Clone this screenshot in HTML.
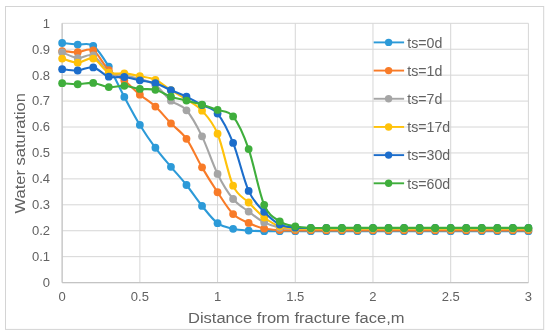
<!DOCTYPE html>
<html><head><meta charset="utf-8"><title>Water saturation vs distance from fracture face</title>
<style>html,body{margin:0;padding:0;background:#fff}svg{display:block}text{font-family:"Liberation Sans",sans-serif;fill:#626262}</style></head><body>
<svg width="550" height="336" viewBox="0 0 550 336">
<rect x="0" y="0" width="550" height="336" fill="#fff"/>
<rect x="5.5" y="6.5" width="538.2" height="322.9" fill="#fff" stroke="#D4D4D4" stroke-width="1"/>
<g stroke="#D6D6D6" stroke-width="1" fill="none"><line x1="62.15" y1="282.60" x2="528.40" y2="282.60"/><line x1="62.15" y1="256.67" x2="528.40" y2="256.67"/><line x1="62.15" y1="230.74" x2="528.40" y2="230.74"/><line x1="62.15" y1="204.81" x2="528.40" y2="204.81"/><line x1="62.15" y1="178.88" x2="528.40" y2="178.88"/><line x1="62.15" y1="152.95" x2="528.40" y2="152.95"/><line x1="62.15" y1="127.02" x2="528.40" y2="127.02"/><line x1="62.15" y1="101.09" x2="528.40" y2="101.09"/><line x1="62.15" y1="75.16" x2="528.40" y2="75.16"/><line x1="62.15" y1="49.23" x2="528.40" y2="49.23"/><line x1="62.15" y1="23.30" x2="528.40" y2="23.30"/><line x1="62.15" y1="23.30" x2="62.15" y2="282.60"/><line x1="139.86" y1="23.30" x2="139.86" y2="282.60"/><line x1="217.57" y1="23.30" x2="217.57" y2="282.60"/><line x1="295.27" y1="23.30" x2="295.27" y2="282.60"/><line x1="372.98" y1="23.30" x2="372.98" y2="282.60"/><line x1="450.69" y1="23.30" x2="450.69" y2="282.60"/><line x1="528.40" y1="23.30" x2="528.40" y2="282.60"/></g>
<g stroke="#C4C4C4" stroke-width="1.1" fill="none"><line x1="62.15" y1="23.30" x2="62.15" y2="282.60"/><line x1="62.15" y1="282.60" x2="528.40" y2="282.60"/></g>
<text x="50" y="287.00" font-size="12.0" text-anchor="end" transform="translate(50 0) scale(1.085 1) translate(-50 0)">0</text>
<text x="50" y="261.07" font-size="12.0" text-anchor="end" transform="translate(50 0) scale(1.085 1) translate(-50 0)">0.1</text>
<text x="50" y="235.14" font-size="12.0" text-anchor="end" transform="translate(50 0) scale(1.085 1) translate(-50 0)">0.2</text>
<text x="50" y="209.21" font-size="12.0" text-anchor="end" transform="translate(50 0) scale(1.085 1) translate(-50 0)">0.3</text>
<text x="50" y="183.28" font-size="12.0" text-anchor="end" transform="translate(50 0) scale(1.085 1) translate(-50 0)">0.4</text>
<text x="50" y="157.35" font-size="12.0" text-anchor="end" transform="translate(50 0) scale(1.085 1) translate(-50 0)">0.5</text>
<text x="50" y="131.42" font-size="12.0" text-anchor="end" transform="translate(50 0) scale(1.085 1) translate(-50 0)">0.6</text>
<text x="50" y="105.49" font-size="12.0" text-anchor="end" transform="translate(50 0) scale(1.085 1) translate(-50 0)">0.7</text>
<text x="50" y="79.56" font-size="12.0" text-anchor="end" transform="translate(50 0) scale(1.085 1) translate(-50 0)">0.8</text>
<text x="50" y="53.63" font-size="12.0" text-anchor="end" transform="translate(50 0) scale(1.085 1) translate(-50 0)">0.9</text>
<text x="50" y="27.70" font-size="12.0" text-anchor="end" transform="translate(50 0) scale(1.085 1) translate(-50 0)">1</text>
<text x="62.15" y="301.2" font-size="12.0" text-anchor="middle" transform="translate(62.15 0) scale(1.085 1) translate(-62.15 0)">0</text>
<text x="139.86" y="301.2" font-size="12.0" text-anchor="middle" transform="translate(139.86 0) scale(1.085 1) translate(-139.86 0)">0.5</text>
<text x="217.57" y="301.2" font-size="12.0" text-anchor="middle" transform="translate(217.57 0) scale(1.085 1) translate(-217.57 0)">1</text>
<text x="295.27" y="301.2" font-size="12.0" text-anchor="middle" transform="translate(295.27 0) scale(1.085 1) translate(-295.27 0)">1.5</text>
<text x="372.98" y="301.2" font-size="12.0" text-anchor="middle" transform="translate(372.98 0) scale(1.085 1) translate(-372.98 0)">2</text>
<text x="450.69" y="301.2" font-size="12.0" text-anchor="middle" transform="translate(450.69 0) scale(1.085 1) translate(-450.69 0)">2.5</text>
<text x="528.40" y="301.2" font-size="12.0" text-anchor="middle" transform="translate(528.40 0) scale(1.085 1) translate(-528.40 0)">3</text>
<text x="188.0" y="322.6" font-size="15.2" textLength="216.5" lengthAdjust="spacingAndGlyphs">Distance from fracture face,m</text>
<text x="-60.2" y="0" font-size="14.8" textLength="120.4" lengthAdjust="spacingAndGlyphs" transform="translate(24.6 153.3) rotate(-90)">Water saturation</text>
<g><path d="M62.15 43.01C64.74 43.27 72.51 44.09 77.69 44.56C82.87 45.04 88.05 42.19 93.23 45.86C98.41 49.53 103.59 58.09 108.78 66.60C113.96 75.12 119.14 87.22 124.32 96.94C129.50 106.66 134.68 116.48 139.86 124.95C145.04 133.42 150.22 140.79 155.40 147.76C160.58 154.74 165.76 160.59 170.94 166.80C176.12 173.00 181.30 178.48 186.48 185.00C191.66 191.52 196.84 199.53 202.03 205.90C207.21 212.27 212.39 219.40 217.57 223.22C222.75 227.04 227.93 227.56 233.11 228.80C238.29 230.03 243.47 230.22 248.65 230.61C253.83 231.00 259.01 231.04 264.19 231.13C269.37 231.22 274.55 231.13 279.73 231.13C284.91 231.13 290.09 231.13 295.27 231.13C300.46 231.13 305.64 231.13 310.82 231.13C316.00 231.13 321.18 231.13 326.36 231.13C331.54 231.13 336.72 231.13 341.90 231.13C347.08 231.13 352.26 231.13 357.44 231.13C362.62 231.13 367.80 231.13 372.98 231.13C378.16 231.13 383.34 231.13 388.52 231.13C393.71 231.13 398.89 231.13 404.07 231.13C409.25 231.13 414.43 231.13 419.61 231.13C424.79 231.13 429.97 231.13 435.15 231.13C440.33 231.13 445.51 231.13 450.69 231.13C455.87 231.13 461.05 231.13 466.23 231.13C471.41 231.13 476.59 231.13 481.77 231.13C486.96 231.13 492.14 231.13 497.32 231.13C502.50 231.13 507.68 231.13 512.86 231.13C518.04 231.13 525.81 231.13 528.40 231.13" fill="none" stroke="#2C9AD8" stroke-width="2.1" stroke-linecap="round" stroke-linejoin="round"/>
<g fill="#2C9AD8"><circle cx="62.15" cy="43.01" r="3.9"/><circle cx="77.69" cy="44.56" r="3.9"/><circle cx="93.23" cy="45.86" r="3.9"/><circle cx="108.78" cy="66.60" r="3.9"/><circle cx="124.32" cy="96.94" r="3.9"/><circle cx="139.86" cy="124.95" r="3.9"/><circle cx="155.40" cy="147.76" r="3.9"/><circle cx="170.94" cy="166.80" r="3.9"/><circle cx="186.48" cy="185.00" r="3.9"/><circle cx="202.03" cy="205.90" r="3.9"/><circle cx="217.57" cy="223.22" r="3.9"/><circle cx="233.11" cy="228.80" r="3.9"/><circle cx="248.65" cy="230.61" r="3.9"/><circle cx="264.19" cy="231.13" r="3.9"/><circle cx="279.73" cy="231.13" r="3.9"/><circle cx="295.27" cy="231.13" r="3.9"/><circle cx="310.82" cy="231.13" r="3.9"/><circle cx="326.36" cy="231.13" r="3.9"/><circle cx="341.90" cy="231.13" r="3.9"/><circle cx="357.44" cy="231.13" r="3.9"/><circle cx="372.98" cy="231.13" r="3.9"/><circle cx="388.52" cy="231.13" r="3.9"/><circle cx="404.07" cy="231.13" r="3.9"/><circle cx="419.61" cy="231.13" r="3.9"/><circle cx="435.15" cy="231.13" r="3.9"/><circle cx="450.69" cy="231.13" r="3.9"/><circle cx="466.23" cy="231.13" r="3.9"/><circle cx="481.77" cy="231.13" r="3.9"/><circle cx="497.32" cy="231.13" r="3.9"/><circle cx="512.86" cy="231.13" r="3.9"/><circle cx="528.40" cy="231.13" r="3.9"/></g></g>
<g><path d="M62.15 51.05C64.74 51.24 72.51 52.29 77.69 52.19C82.87 52.08 88.05 47.39 93.23 50.40C98.41 53.40 103.59 65.20 108.78 70.23C113.96 75.27 119.14 76.53 124.32 80.61C129.50 84.68 134.68 90.36 139.86 94.69C145.04 99.01 150.22 101.75 155.40 106.54C160.58 111.32 165.76 118.01 170.94 123.39C176.12 128.77 181.30 131.49 186.48 138.82C191.66 146.15 196.84 158.46 202.03 167.37C207.21 176.27 212.39 184.45 217.57 192.23C222.75 200.02 227.93 208.97 233.11 214.09C238.29 219.21 243.47 220.55 248.65 222.96C253.83 225.37 259.01 227.35 264.19 228.54C269.37 229.72 274.55 229.79 279.73 230.09C284.91 230.39 290.09 230.31 295.27 230.35C300.46 230.39 305.64 230.35 310.82 230.35C316.00 230.35 321.18 230.35 326.36 230.35C331.54 230.35 336.72 230.35 341.90 230.35C347.08 230.35 352.26 230.35 357.44 230.35C362.62 230.35 367.80 230.35 372.98 230.35C378.16 230.35 383.34 230.35 388.52 230.35C393.71 230.35 398.89 230.35 404.07 230.35C409.25 230.35 414.43 230.35 419.61 230.35C424.79 230.35 429.97 230.35 435.15 230.35C440.33 230.35 445.51 230.35 450.69 230.35C455.87 230.35 461.05 230.35 466.23 230.35C471.41 230.35 476.59 230.35 481.77 230.35C486.96 230.35 492.14 230.35 497.32 230.35C502.50 230.35 507.68 230.35 512.86 230.35C518.04 230.35 525.81 230.35 528.40 230.35" fill="none" stroke="#F87B28" stroke-width="2.1" stroke-linecap="round" stroke-linejoin="round"/>
<g fill="#F87B28"><circle cx="62.15" cy="51.05" r="3.9"/><circle cx="77.69" cy="52.19" r="3.9"/><circle cx="93.23" cy="50.40" r="3.9"/><circle cx="108.78" cy="70.23" r="3.9"/><circle cx="124.32" cy="80.61" r="3.9"/><circle cx="139.86" cy="94.69" r="3.9"/><circle cx="155.40" cy="106.54" r="3.9"/><circle cx="170.94" cy="123.39" r="3.9"/><circle cx="186.48" cy="138.82" r="3.9"/><circle cx="202.03" cy="167.37" r="3.9"/><circle cx="217.57" cy="192.23" r="3.9"/><circle cx="233.11" cy="214.09" r="3.9"/><circle cx="248.65" cy="222.96" r="3.9"/><circle cx="264.19" cy="228.54" r="3.9"/><circle cx="279.73" cy="230.09" r="3.9"/><circle cx="295.27" cy="230.35" r="3.9"/><circle cx="310.82" cy="230.35" r="3.9"/><circle cx="326.36" cy="230.35" r="3.9"/><circle cx="341.90" cy="230.35" r="3.9"/><circle cx="357.44" cy="230.35" r="3.9"/><circle cx="372.98" cy="230.35" r="3.9"/><circle cx="388.52" cy="230.35" r="3.9"/><circle cx="404.07" cy="230.35" r="3.9"/><circle cx="419.61" cy="230.35" r="3.9"/><circle cx="435.15" cy="230.35" r="3.9"/><circle cx="450.69" cy="230.35" r="3.9"/><circle cx="466.23" cy="230.35" r="3.9"/><circle cx="481.77" cy="230.35" r="3.9"/><circle cx="497.32" cy="230.35" r="3.9"/><circle cx="512.86" cy="230.35" r="3.9"/><circle cx="528.40" cy="230.35" r="3.9"/></g></g>
<g><path d="M62.15 52.34C64.74 53.29 72.51 57.53 77.69 58.05C82.87 58.56 88.05 53.03 93.23 55.45C98.41 57.87 103.59 69.28 108.78 72.57C113.96 75.85 119.14 74.08 124.32 75.16C129.50 76.24 134.68 77.41 139.86 79.05C145.04 80.69 150.22 81.40 155.40 85.01C160.58 88.62 165.76 96.49 170.94 100.70C176.12 104.91 181.30 104.35 186.48 110.30C191.66 116.24 196.84 125.75 202.03 136.35C207.21 146.96 212.39 163.51 217.57 173.95C222.75 184.39 227.93 192.74 233.11 199.00C238.29 205.27 243.47 207.65 248.65 211.55C253.83 215.46 259.01 219.76 264.19 222.44C269.37 225.12 274.55 226.59 279.73 227.63C284.91 228.67 290.09 228.47 295.27 228.67C300.46 228.86 305.64 228.77 310.82 228.80C316.00 228.82 321.18 228.80 326.36 228.80C331.54 228.80 336.72 228.80 341.90 228.80C347.08 228.80 352.26 228.80 357.44 228.80C362.62 228.80 367.80 228.80 372.98 228.80C378.16 228.80 383.34 228.80 388.52 228.80C393.71 228.80 398.89 228.80 404.07 228.80C409.25 228.80 414.43 228.80 419.61 228.80C424.79 228.80 429.97 228.80 435.15 228.80C440.33 228.80 445.51 228.80 450.69 228.80C455.87 228.80 461.05 228.80 466.23 228.80C471.41 228.80 476.59 228.80 481.77 228.80C486.96 228.80 492.14 228.80 497.32 228.80C502.50 228.80 507.68 228.80 512.86 228.80C518.04 228.80 525.81 228.80 528.40 228.80" fill="none" stroke="#A5A5A5" stroke-width="2.1" stroke-linecap="round" stroke-linejoin="round"/>
<g fill="#A5A5A5"><circle cx="62.15" cy="52.34" r="3.9"/><circle cx="77.69" cy="58.05" r="3.9"/><circle cx="93.23" cy="55.45" r="3.9"/><circle cx="108.78" cy="72.57" r="3.9"/><circle cx="124.32" cy="75.16" r="3.9"/><circle cx="139.86" cy="79.05" r="3.9"/><circle cx="155.40" cy="85.01" r="3.9"/><circle cx="170.94" cy="100.70" r="3.9"/><circle cx="186.48" cy="110.30" r="3.9"/><circle cx="202.03" cy="136.35" r="3.9"/><circle cx="217.57" cy="173.95" r="3.9"/><circle cx="233.11" cy="199.00" r="3.9"/><circle cx="248.65" cy="211.55" r="3.9"/><circle cx="264.19" cy="222.44" r="3.9"/><circle cx="279.73" cy="227.63" r="3.9"/><circle cx="295.27" cy="228.67" r="3.9"/><circle cx="310.82" cy="228.80" r="3.9"/><circle cx="326.36" cy="228.80" r="3.9"/><circle cx="341.90" cy="228.80" r="3.9"/><circle cx="357.44" cy="228.80" r="3.9"/><circle cx="372.98" cy="228.80" r="3.9"/><circle cx="388.52" cy="228.80" r="3.9"/><circle cx="404.07" cy="228.80" r="3.9"/><circle cx="419.61" cy="228.80" r="3.9"/><circle cx="435.15" cy="228.80" r="3.9"/><circle cx="450.69" cy="228.80" r="3.9"/><circle cx="466.23" cy="228.80" r="3.9"/><circle cx="481.77" cy="228.80" r="3.9"/><circle cx="497.32" cy="228.80" r="3.9"/><circle cx="512.86" cy="228.80" r="3.9"/><circle cx="528.40" cy="228.80" r="3.9"/></g></g>
<g><path d="M62.15 58.56C64.74 59.26 72.51 62.71 77.69 62.71C82.87 62.71 88.05 56.92 93.23 58.56C98.41 60.21 103.59 70.10 108.78 72.57C113.96 75.03 119.14 72.74 124.32 73.34C129.50 73.95 134.68 75.12 139.86 76.20C145.04 77.28 150.22 77.49 155.40 79.83C160.58 82.16 165.76 86.91 170.94 90.20C176.12 93.48 181.30 96.12 186.48 99.53C191.66 102.95 196.84 104.98 202.03 110.68C207.21 116.39 212.39 121.26 217.57 133.76C222.75 146.26 227.93 174.22 233.11 185.67C238.29 197.13 243.47 197.17 248.65 202.48C253.83 207.78 259.01 213.54 264.19 217.52C269.37 221.49 274.55 224.52 279.73 226.33C284.91 228.15 290.09 228.02 295.27 228.41C300.46 228.80 305.64 228.62 310.82 228.67C316.00 228.71 321.18 228.67 326.36 228.67C331.54 228.67 336.72 228.67 341.90 228.67C347.08 228.67 352.26 228.67 357.44 228.67C362.62 228.67 367.80 228.67 372.98 228.67C378.16 228.67 383.34 228.67 388.52 228.67C393.71 228.67 398.89 228.67 404.07 228.67C409.25 228.67 414.43 228.67 419.61 228.67C424.79 228.67 429.97 228.67 435.15 228.67C440.33 228.67 445.51 228.67 450.69 228.67C455.87 228.67 461.05 228.67 466.23 228.67C471.41 228.67 476.59 228.67 481.77 228.67C486.96 228.67 492.14 228.67 497.32 228.67C502.50 228.67 507.68 228.67 512.86 228.67C518.04 228.67 525.81 228.67 528.40 228.67" fill="none" stroke="#FFC20A" stroke-width="2.1" stroke-linecap="round" stroke-linejoin="round"/>
<g fill="#FFC20A"><circle cx="62.15" cy="58.56" r="3.9"/><circle cx="77.69" cy="62.71" r="3.9"/><circle cx="93.23" cy="58.56" r="3.9"/><circle cx="108.78" cy="72.57" r="3.9"/><circle cx="124.32" cy="73.34" r="3.9"/><circle cx="139.86" cy="76.20" r="3.9"/><circle cx="155.40" cy="79.83" r="3.9"/><circle cx="170.94" cy="90.20" r="3.9"/><circle cx="186.48" cy="99.53" r="3.9"/><circle cx="202.03" cy="110.68" r="3.9"/><circle cx="217.57" cy="133.76" r="3.9"/><circle cx="233.11" cy="185.67" r="3.9"/><circle cx="248.65" cy="202.48" r="3.9"/><circle cx="264.19" cy="217.52" r="3.9"/><circle cx="279.73" cy="226.33" r="3.9"/><circle cx="295.27" cy="228.41" r="3.9"/><circle cx="310.82" cy="228.67" r="3.9"/><circle cx="326.36" cy="228.67" r="3.9"/><circle cx="341.90" cy="228.67" r="3.9"/><circle cx="357.44" cy="228.67" r="3.9"/><circle cx="372.98" cy="228.67" r="3.9"/><circle cx="388.52" cy="228.67" r="3.9"/><circle cx="404.07" cy="228.67" r="3.9"/><circle cx="419.61" cy="228.67" r="3.9"/><circle cx="435.15" cy="228.67" r="3.9"/><circle cx="450.69" cy="228.67" r="3.9"/><circle cx="466.23" cy="228.67" r="3.9"/><circle cx="481.77" cy="228.67" r="3.9"/><circle cx="497.32" cy="228.67" r="3.9"/><circle cx="512.86" cy="228.67" r="3.9"/><circle cx="528.40" cy="228.67" r="3.9"/></g></g>
<g><path d="M62.15 69.20C64.74 69.41 72.51 70.80 77.69 70.49C82.87 70.19 88.05 66.34 93.23 67.38C98.41 68.42 103.59 75.12 108.78 76.72C113.96 78.31 119.14 76.37 124.32 76.98C129.50 77.58 134.68 79.31 139.86 80.35C145.04 81.38 150.22 81.56 155.40 83.20C160.58 84.84 165.76 87.95 170.94 90.20C176.12 92.45 181.30 94.22 186.48 96.68C191.66 99.15 196.84 102.17 202.03 104.98C207.21 107.79 212.39 107.21 217.57 113.54C222.75 119.87 227.93 130.07 233.11 142.97C238.29 155.87 243.47 179.46 248.65 190.94C253.83 202.41 259.01 206.21 264.19 211.81C269.37 217.41 274.55 221.88 279.73 224.52C284.91 227.15 290.09 227.04 295.27 227.63C300.46 228.21 305.64 227.95 310.82 228.02C316.00 228.08 321.18 228.02 326.36 228.02C331.54 228.02 336.72 228.02 341.90 228.02C347.08 228.02 352.26 228.02 357.44 228.02C362.62 228.02 367.80 228.02 372.98 228.02C378.16 228.02 383.34 228.02 388.52 228.02C393.71 228.02 398.89 228.02 404.07 228.02C409.25 228.02 414.43 228.02 419.61 228.02C424.79 228.02 429.97 228.02 435.15 228.02C440.33 228.02 445.51 228.02 450.69 228.02C455.87 228.02 461.05 228.02 466.23 228.02C471.41 228.02 476.59 228.02 481.77 228.02C486.96 228.02 492.14 228.02 497.32 228.02C502.50 228.02 507.68 228.02 512.86 228.02C518.04 228.02 525.81 228.02 528.40 228.02" fill="none" stroke="#1C6DCB" stroke-width="2.1" stroke-linecap="round" stroke-linejoin="round"/>
<g fill="#1C6DCB"><circle cx="62.15" cy="69.20" r="3.9"/><circle cx="77.69" cy="70.49" r="3.9"/><circle cx="93.23" cy="67.38" r="3.9"/><circle cx="108.78" cy="76.72" r="3.9"/><circle cx="124.32" cy="76.98" r="3.9"/><circle cx="139.86" cy="80.35" r="3.9"/><circle cx="155.40" cy="83.20" r="3.9"/><circle cx="170.94" cy="90.20" r="3.9"/><circle cx="186.48" cy="96.68" r="3.9"/><circle cx="202.03" cy="104.98" r="3.9"/><circle cx="217.57" cy="113.54" r="3.9"/><circle cx="233.11" cy="142.97" r="3.9"/><circle cx="248.65" cy="190.94" r="3.9"/><circle cx="264.19" cy="211.81" r="3.9"/><circle cx="279.73" cy="224.52" r="3.9"/><circle cx="295.27" cy="227.63" r="3.9"/><circle cx="310.82" cy="228.02" r="3.9"/><circle cx="326.36" cy="228.02" r="3.9"/><circle cx="341.90" cy="228.02" r="3.9"/><circle cx="357.44" cy="228.02" r="3.9"/><circle cx="372.98" cy="228.02" r="3.9"/><circle cx="388.52" cy="228.02" r="3.9"/><circle cx="404.07" cy="228.02" r="3.9"/><circle cx="419.61" cy="228.02" r="3.9"/><circle cx="435.15" cy="228.02" r="3.9"/><circle cx="450.69" cy="228.02" r="3.9"/><circle cx="466.23" cy="228.02" r="3.9"/><circle cx="481.77" cy="228.02" r="3.9"/><circle cx="497.32" cy="228.02" r="3.9"/><circle cx="512.86" cy="228.02" r="3.9"/><circle cx="528.40" cy="228.02" r="3.9"/></g></g>
<g><path d="M62.15 83.20C64.74 83.37 72.51 84.28 77.69 84.24C82.87 84.19 88.05 82.46 93.23 82.94C98.41 83.41 103.59 86.61 108.78 87.09C113.96 87.56 119.14 85.49 124.32 85.79C129.50 86.09 134.68 88.23 139.86 88.90C145.04 89.57 150.22 88.51 155.40 89.81C160.58 91.11 165.76 94.89 170.94 96.68C176.12 98.48 181.30 99.23 186.48 100.57C191.66 101.91 196.84 103.16 202.03 104.72C207.21 106.28 212.39 107.95 217.57 109.91C222.75 111.86 227.93 109.94 233.11 116.47C238.29 122.99 243.47 134.34 248.65 149.06C253.83 163.78 259.01 192.77 264.19 204.81C269.37 216.85 274.55 217.69 279.73 221.28C284.91 224.86 290.09 225.23 295.27 226.33C300.46 227.43 305.64 227.63 310.82 227.89C316.00 228.15 321.18 227.89 326.36 227.89C331.54 227.89 336.72 227.89 341.90 227.89C347.08 227.89 352.26 227.89 357.44 227.89C362.62 227.89 367.80 227.89 372.98 227.89C378.16 227.89 383.34 227.89 388.52 227.89C393.71 227.89 398.89 227.89 404.07 227.89C409.25 227.89 414.43 227.89 419.61 227.89C424.79 227.89 429.97 227.89 435.15 227.89C440.33 227.89 445.51 227.89 450.69 227.89C455.87 227.89 461.05 227.89 466.23 227.89C471.41 227.89 476.59 227.89 481.77 227.89C486.96 227.89 492.14 227.89 497.32 227.89C502.50 227.89 507.68 227.89 512.86 227.89C518.04 227.89 525.81 227.89 528.40 227.89" fill="none" stroke="#3FAE3C" stroke-width="2.1" stroke-linecap="round" stroke-linejoin="round"/>
<g fill="#3FAE3C"><circle cx="62.15" cy="83.20" r="3.9"/><circle cx="77.69" cy="84.24" r="3.9"/><circle cx="93.23" cy="82.94" r="3.9"/><circle cx="108.78" cy="87.09" r="3.9"/><circle cx="124.32" cy="85.79" r="3.9"/><circle cx="139.86" cy="88.90" r="3.9"/><circle cx="155.40" cy="89.81" r="3.9"/><circle cx="170.94" cy="96.68" r="3.9"/><circle cx="186.48" cy="100.57" r="3.9"/><circle cx="202.03" cy="104.72" r="3.9"/><circle cx="217.57" cy="109.91" r="3.9"/><circle cx="233.11" cy="116.47" r="3.9"/><circle cx="248.65" cy="149.06" r="3.9"/><circle cx="264.19" cy="204.81" r="3.9"/><circle cx="279.73" cy="221.28" r="3.9"/><circle cx="295.27" cy="226.33" r="3.9"/><circle cx="310.82" cy="227.89" r="3.9"/><circle cx="326.36" cy="227.89" r="3.9"/><circle cx="341.90" cy="227.89" r="3.9"/><circle cx="357.44" cy="227.89" r="3.9"/><circle cx="372.98" cy="227.89" r="3.9"/><circle cx="388.52" cy="227.89" r="3.9"/><circle cx="404.07" cy="227.89" r="3.9"/><circle cx="419.61" cy="227.89" r="3.9"/><circle cx="435.15" cy="227.89" r="3.9"/><circle cx="450.69" cy="227.89" r="3.9"/><circle cx="466.23" cy="227.89" r="3.9"/><circle cx="481.77" cy="227.89" r="3.9"/><circle cx="497.32" cy="227.89" r="3.9"/><circle cx="512.86" cy="227.89" r="3.9"/><circle cx="528.40" cy="227.89" r="3.9"/></g></g>
<line x1="373.7" y1="42.40" x2="404.1" y2="42.40" stroke="#2C9AD8" stroke-width="1.9"/>
<circle cx="388.6" cy="42.40" r="3.7" fill="#2C9AD8"/>
<text x="407.2" y="47.70" font-size="14.2" >ts=0d</text>
<line x1="373.7" y1="70.58" x2="404.1" y2="70.58" stroke="#F87B28" stroke-width="1.9"/>
<circle cx="388.6" cy="70.58" r="3.7" fill="#F87B28"/>
<text x="407.2" y="75.88" font-size="14.2" >ts=1d</text>
<line x1="373.7" y1="98.76" x2="404.1" y2="98.76" stroke="#A5A5A5" stroke-width="1.9"/>
<circle cx="388.6" cy="98.76" r="3.7" fill="#A5A5A5"/>
<text x="407.2" y="104.06" font-size="14.2" >ts=7d</text>
<line x1="373.7" y1="126.94" x2="404.1" y2="126.94" stroke="#FFC20A" stroke-width="1.9"/>
<circle cx="388.6" cy="126.94" r="3.7" fill="#FFC20A"/>
<text x="407.2" y="132.24" font-size="14.2" >ts=17d</text>
<line x1="373.7" y1="155.12" x2="404.1" y2="155.12" stroke="#1C6DCB" stroke-width="1.9"/>
<circle cx="388.6" cy="155.12" r="3.7" fill="#1C6DCB"/>
<text x="407.2" y="160.42" font-size="14.2" >ts=30d</text>
<line x1="373.7" y1="183.30" x2="404.1" y2="183.30" stroke="#3FAE3C" stroke-width="1.9"/>
<circle cx="388.6" cy="183.30" r="3.7" fill="#3FAE3C"/>
<text x="407.2" y="188.60" font-size="14.2" >ts=60d</text>
</svg></body></html>
